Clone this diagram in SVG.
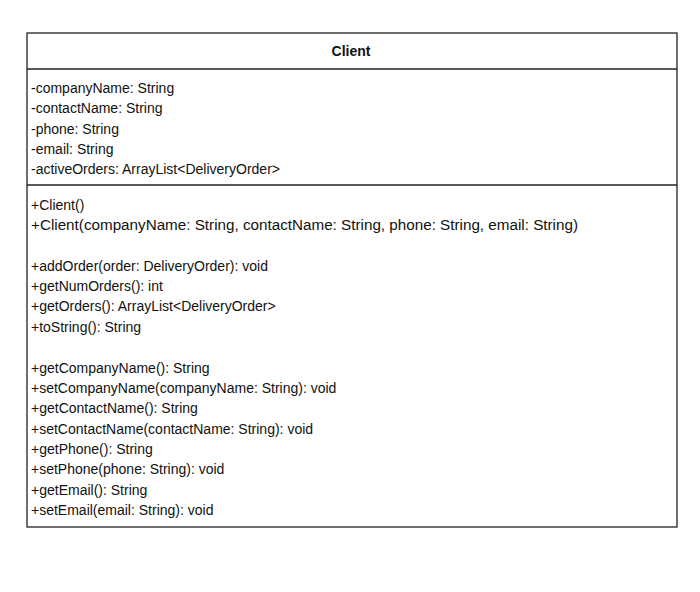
<svg xmlns="http://www.w3.org/2000/svg" width="700" height="592" viewBox="0 0 700 592">
<style>
text{font-family:"Liberation Sans",Arial,sans-serif;font-size:14px;fill:#111}
.t{font-weight:bold;text-anchor:middle}
line,rect{stroke:#222;stroke-width:1.3;fill:none}
</style>
<rect width="700" height="592" fill="#fff" style="stroke:none"/>
<g id="Client">
<rect x="27" y="33" width="650" height="494"/>
<line x1="27" y1="69" x2="677" y2="69"/>
<line x1="27" y1="185" x2="677" y2="185"/>
<text class="t" x="351" y="56">Client</text>
<text x="31" y="93">-companyName: String</text>
<text x="31" y="113">-contactName: String</text>
<text x="31" y="134">-phone: String</text>
<text x="31" y="154">-email: String</text>
<text x="31" y="174">-activeOrders: ArrayList&lt;DeliveryOrder&gt;</text>
<text x="31" y="210">+Client()</text>
<text x="31" y="230" textLength="547" lengthAdjust="spacingAndGlyphs">+Client(companyName: String, contactName: String, phone: String, email: String)</text>
<text x="31" y="271">+addOrder(order: DeliveryOrder): void</text>
<text x="31" y="291">+getNumOrders(): int</text>
<text x="31" y="311">+getOrders(): ArrayList&lt;DeliveryOrder&gt;</text>
<text x="31" y="332">+toString(): String</text>
<text x="31" y="373">+getCompanyName(): String</text>
<text x="31" y="393">+setCompanyName(companyName: String): void</text>
<text x="31" y="413">+getContactName(): String</text>
<text x="31" y="434">+setContactName(contactName: String): void</text>
<text x="31" y="454">+getPhone(): String</text>
<text x="31" y="474">+setPhone(phone: String): void</text>
<text x="31" y="495">+getEmail(): String</text>
<text x="31" y="515">+setEmail(email: String): void</text>
</g>
<g id="connectors"/>
</svg>
